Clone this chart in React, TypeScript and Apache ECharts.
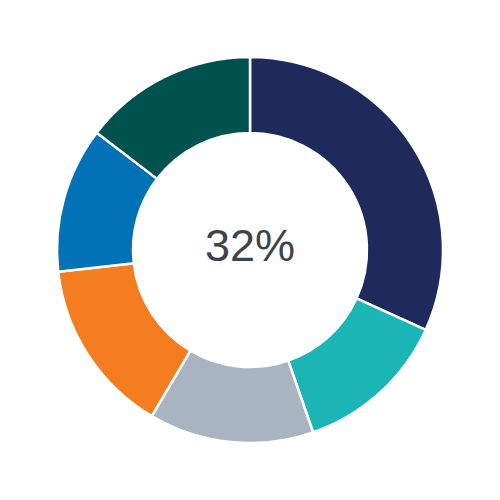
import React, { useEffect, useRef } from "react";
import * as echarts from "echarts";

const categories = ["A", "B", "C", "D", "E", "F"];
const values = [31.8, 12.9, 13.8, 14.7, 12.2, 14.6];
const colors = ["#1d2a5b", "#1cb5b6", "#a9b4c3", "#f37d20", "#0072b5", "#00524f"];
const centerLabel = "32%";

export default function App() {
  const ref = useRef<HTMLDivElement>(null);
  useEffect(() => {
    if (!ref.current) return;
    const chart = echarts.init(ref.current, undefined, { renderer: "svg" });
    chart.setOption({
      animation: false,
      backgroundColor: "#ffffff",
      title: {
        text: centerLabel,
        left: "center",
        top: 218,
        textStyle: {
          fontFamily: "Liberation Sans, Arial, sans-serif",
          fontSize: 45,
          fontWeight: "normal",
          color: "#3d434d",
        },
      },
      series: [
        {
          type: "pie",
          center: ["50%", "50%"],
          radius: [117, 193],
          startAngle: 90,
          clockwise: true,
          label: { show: false },
          labelLine: { show: false },
          itemStyle: { borderColor: "#ffffff", borderWidth: 2.5 },
          emphasis: { disabled: true },
          data: categories.map((c, i) => ({
            name: c,
            value: values[i],
            itemStyle: { color: colors[i] },
          })),
        },
      ],
    });
    return () => chart.dispose();
  }, []);
  return (
    <div
      ref={ref}
      style={{ position: "fixed", left: 0, top: 0, width: 500, height: 500 }}
    />
  );
}
